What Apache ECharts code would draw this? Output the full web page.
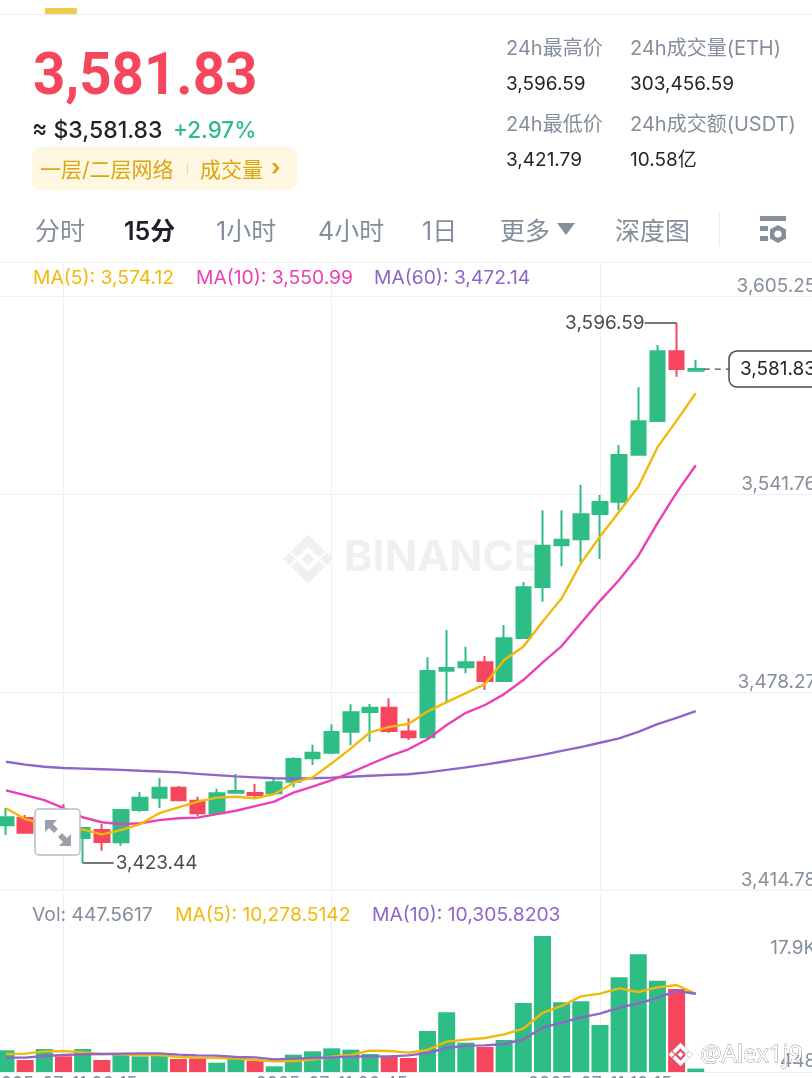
<!DOCTYPE html>
<html>
<head>
<meta charset="utf-8">
<script src="https://cdn.jsdelivr.net/npm/echarts@6/dist/echarts.min.js"></script>
<style>
html,body{margin:0;padding:0;background:#fff;overflow:hidden}
body{width:812px;height:1078px;position:relative;font-family:Inter,"Noto Sans CJK SC",sans-serif}
#chart_kline{position:absolute;left:0;top:0;width:812px;height:1078px}
.t{position:absolute;white-space:nowrap;line-height:1;transform:translateY(-50%);z-index:5}
.g{color:#848e9c}
.d{color:#1e2329}
</style>
</head>
<body>
<div id="chart_kline"></div>

<!-- 顶部行情 -->
<div style="position:absolute;left:45px;top:8px;width:32px;height:6px;background:#f0cb50;z-index:5"></div>
<div style="position:absolute;left:0;top:14px;width:812px;height:1px;background:#eaecef;z-index:5"></div>
<div class="t" style="left:33px;top:74px;font-family:Roboto;font-size:60px;font-weight:700;color:#f6465d;transform:translateY(-50%) scaleX(.94);transform-origin:left center">3,581.83</div>
<div class="t d" style="left:32px;top:130px;font-size:23px;font-weight:500">≈ $3,581.83</div>
<div class="t" style="left:173px;top:130px;font-size:22.400px;font-weight:500;color:#2ebd85">+2.97%</div>
<div style="position:absolute;left:32px;top:147px;width:265px;height:43px;background:#fef8e3;border-radius:9px;z-index:4"></div>
<div class="t" style="left:40px;top:169px;font-size:21px;color:#dca50f">一层/二层网络</div>
<div style="position:absolute;left:187px;top:164px;width:1px;height:10px;background:#e8d9a0;z-index:5"></div>
<div class="t" style="left:200px;top:169px;font-size:21px;color:#dca50f">成交量</div>
<div class="t" style="left:271px;top:167px;font-size:22px;font-weight:700;color:#dca50f">›</div>

<div class="t g" style="left:506px;top:48px;font-size:20px">24h最高价</div>
<div class="t g" style="left:630px;top:48px;font-size:20px">24h成交量(ETH)</div>
<div class="t d" style="left:506px;top:83px;font-size:19px">3,596.59</div>
<div class="t d" style="left:630px;top:83px;font-size:19px">303,456.59</div>
<div class="t g" style="left:506px;top:124px;font-size:20px">24h最低价</div>
<div class="t g" style="left:630px;top:124px;font-size:20px">24h成交额(USDT)</div>
<div class="t d" style="left:506px;top:159px;font-size:19px">3,421.79</div>
<div class="t d" style="left:630px;top:159px;font-size:19px">10.58亿</div>

<!-- 周期 -->
<div class="t g" style="left:35px;top:231px;font-size:25px">分时</div>
<div class="t d" style="left:124px;top:231px;font-size:25px;font-weight:600">15分</div>
<div class="t g" style="left:216px;top:231px;font-size:25px">1小时</div>
<div class="t g" style="left:318px;top:231px;font-size:25px">4小时</div>
<div class="t g" style="left:422px;top:231px;font-size:25px">1日</div>
<div class="t g" style="left:500px;top:231px;font-size:25px">更多</div>
<div class="t g" style="left:615px;top:231px;font-size:25px">深度图</div>
<svg style="position:absolute;left:556px;top:222px;z-index:5" width="20" height="14"><path d="M1 1H19L10 13Z" fill="#848e9c"/></svg>
<div style="position:absolute;left:719px;top:212px;width:1px;height:34px;background:#eaecef;z-index:5"></div>
<svg style="position:absolute;left:758px;top:214px;z-index:5" width="30" height="30"><path d="M2 2H28V7H2ZM2 12H10V17H2ZM2 22H10V27H2Z" fill="#848e9c"/><path d="M20 11L28 15.5V24.5L20 29L12 24.500V15.500Z" fill="#848e9c"/><circle cx="20" cy="20" r="3.600" fill="#fff"/></svg>

<!-- 指标文字 -->
<div class="t" style="left:33px;top:278px;font-size:19.300px;color:#f0b90b">MA(5): 3,574.12</div>
<div class="t" style="left:196px;top:278px;font-size:19.300px;color:#eb40b5">MA(10): 3,550.99</div>
<div class="t" style="left:374px;top:278px;font-size:19.300px;color:#8d66c9">MA(60): 3,472.14</div>
<div class="t g" style="left:32px;top:915px;font-size:19.300px">Vol: 447.5617</div>
<div class="t" style="left:175px;top:915px;font-size:19.300px;color:#f0b90b">MA(5): 10,278.5142</div>
<div class="t" style="left:372px;top:915px;font-size:19.300px;color:#8d66c9">MA(10): 10,305.8203</div>

<script>
var times = ['02:30','02:45','03:00','03:15','03:30','03:45','04:00','04:15','04:30','04:45','05:00','05:15','05:30','05:45','06:00','06:15','06:30','06:45','07:00','07:15','07:30','07:45','08:00','08:15','08:30','08:45','09:00','09:15','09:30','09:45','10:00','10:15','10:30','10:45','11:00','11:15','11:30','11:45','12:00','12:15','12:30','12:45','13:00'];
var opens = [3435.52,3437.87,3433.38,3435.94,3431.45,3434.02,3430.07,3440.43,3444.37,3447.58,3443.41,3439.37,3445.98,3445.88,3445.79,3449.51,3457.01,3458.80,3465.54,3471.86,3473.23,3465.60,3463.74,3485.10,3486.19,3487.79,3481.80,3495.58,3511.94,3525.31,3527.23,3535.35,3539.29,3554.36,3565.17,3587.52,3581.30];
var closes = [3438.09,3433.15,3435.94,3431.45,3434.66,3430.17,3440.43,3444.37,3447.58,3443.54,3439.37,3445.79,3446.52,3445.24,3449.31,3456.78,3458.80,3465.44,3471.76,3473.23,3465.76,3463.74,3485.00,3485.96,3487.79,3481.80,3495.49,3511.84,3525.18,3527.11,3535.25,3539.19,3554.27,3565.07,3587.52,3581.84,3581.83];
var lows = [3432.41,3433.10,3431.45,3430.50,3423.44,3427.38,3428.98,3439.89,3441.07,3443.50,3438.51,3439.30,3445.90,3444.18,3445.70,3447.71,3454.86,3458.39,3461.18,3462.33,3465.22,3462.88,3463.70,3474.65,3484.27,3478.91,3481.48,3495.50,3507.22,3518.58,3519.95,3520.92,3536.63,3554.04,3565.10,3579.37,3580.98];
var highs = [3441.07,3438.83,3437.22,3442.35,3435.00,3435.94,3440.50,3446.20,3450.69,3448.13,3444.70,3447.26,3451.97,3448.77,3450.69,3457.33,3461.37,3467.91,3474.32,3474.42,3476.25,3469.84,3489.40,3498.15,3492.79,3489.81,3499.75,3513.54,3536.53,3536.53,3544.74,3541.44,3557.47,3575.97,3589.54,3596.59,3584.73];
var ma5 = [3441.0,3437.5,3435.9,3434.7,3434.2,3432.6,3434.0,3435.9,3439.4,3441.3,3443.1,3444.4,3444.7,3444.2,3445.5,3449.2,3450.9,3455.4,3460.2,3465.3,3467.1,3468.0,3472.0,3475.0,3477.9,3480.8,3488.5,3492.8,3500.8,3508.3,3519.5,3528.1,3536.1,3544.1,3556.7,3565.3,3574.12];
var ma10 = [3446.7,3445.2,3443.6,3441.0,3438.1,3436.5,3435.9,3436.2,3437.2,3437.8,3438.0,3439.1,3440.2,3441.7,3443.1,3446.0,3447.9,3450.0,3452.4,3455.1,3457.7,3459.9,3463.1,3467.7,3471.6,3474.1,3477.6,3482.1,3487.7,3493.0,3500.3,3507.5,3514.2,3521.9,3532.4,3542.2,3550.99];
var ma60 = [3455.9,3455.0,3454.3,3453.9,3453.7,3453.5,3453.3,3453.0,3452.8,3452.5,3452.0,3451.6,3451.2,3450.9,3450.6,3450.5,3450.6,3450.8,3451.1,3451.4,3451.7,3451.9,3452.5,3453.3,3454.1,3455.0,3456.0,3457.0,3458.1,3459.4,3460.6,3462.0,3463.4,3465.5,3468.0,3470.0,3472.14];
var vols = [2852,1579,3027,2062,3027,1579,2237,2062,2237,1711,1799,1228,1711,1448,746,2281,2720,3115,2939,2369,2062,1843,5396,7853,3861,3290,4212,9081,17899,9169,9300,6186,12459,15486,12020,10924,447.56];
var volMa5 = [2369,2413,2720,2764,2588,2369,2325,2237,2237,1974,1886,1843,1755,1579,1404,1448,1623,2018,2237,2808,2764,2544,2895,3992,4255,4475,4957,5703,7765,8686,9958,10309,11011,10529,11143,11450,10278.51];
var volMa10 = [1886,1886,2106,2237,2325,2369,2413,2457,2457,2281,2194,2150,1974,1930,1667,1755,1843,1930,2018,2062,2062,2194,2501,3159,3466,3510,3685,4299,5835,6493,7195,7677,8467,9037,9739,10660,10305.82];
var priceTicks = [3414.78,3478.27,3541.76,3605.25];
var volTicks = [447.56,17900];

var UP = '#2ebd85', DOWN = '#f6465d', GRID = '#eef0f2', TEXT = '#848e9c', DARK = '#474d57';
// 币安logo 32x32
var logoParts = [
	[[16,3],[25,12],[21.8,15.2],[16,9.4],[10.2,15.2],[7,12]],
	[[16,29],[25,20],[21.8,16.8],[16,22.6],[10.2,16.8],[7,20]],
	[[16,12.6],[19.4,16],[16,19.4],[12.6,16]],
	[[6,12.6],[9.4,16],[6,19.4],[2.6,16]],
	[[26,12.6],[29.4,16],[26,19.4],[22.6,16]]
];
function logo(x, y, size, z, style){
	return logoParts.map(function(pts){
		return {type:'polygon', z:z, silent:true, style:style,
			shape:{points:pts.map(function(p){return [x+p[0]*size/32, y+p[1]*size/32];})}};
	});
}

var myChart = echarts.init(document.getElementById('chart_kline'));
function lineS(name, arr, color, xi, yi, w){
	return {name:name, type:'line', data:arr, xAxisIndex:xi, yAxisIndex:yi, symbol:'none', z:5, silent:true, lineStyle:{color:color, width:w}};
}
var tickAt = function(i){ return i % 14 == 3; };
var option = {
	animation:false,
	backgroundColor:'#fff',
	grid:[
		{left:-3.58, top:262, width:823.88, height:628, outerBoundsMode:'none'},
		{left:-3.58, top:895, width:823.88, height:177, outerBoundsMode:'none'}
	],
	xAxis:[
		{type:'category', gridIndex:0, data:times, axisLine:{show:false}, axisTick:{show:false}, axisLabel:{show:false},
			splitLine:{show:true, interval:tickAt, alignWithLabel:true, lineStyle:{color:GRID, width:1}}},
		{type:'category', gridIndex:1, data:times, axisLine:{lineStyle:{color:'#eaecef', width:1}}, axisTick:{show:false},
			axisLabel:{show:true, interval:tickAt, margin:4, fontSize:18, color:TEXT, fontFamily:'Inter', formatter:function(v){return '2025-07-11 '+v;}},
			splitLine:{show:true, interval:tickAt, alignWithLabel:true, lineStyle:{color:GRID, width:1}}}
	],
	yAxis:[
		{type:'value', gridIndex:0, position:'right', min:3414.78, max:3616.15, axisLine:{show:false},
			axisTick:{show:false, customValues:priceTicks.concat([3616.15])},
			axisLabel:{inside:true, margin:4, fontSize:19, color:TEXT, fontFamily:'Inter', verticalAlign:'bottom', lineHeight:20, customValues:priceTicks,
				formatter:function(v){return v.toLocaleString('en-US',{minimumFractionDigits:2,maximumFractionDigits:2});}},
			splitLine:{show:true, lineStyle:{color:GRID, width:1}}},
		{type:'value', gridIndex:1, position:'right', min:0, max:23293, axisLine:{show:false},
			axisTick:{show:false, customValues:volTicks},
			axisLabel:{inside:true, margin:4, fontSize:19, color:TEXT, fontFamily:'Inter', customValues:volTicks,
				formatter:function(v){return v > 1000 ? '{t|17.9K}' : '{b|448}';},
				rich:{t:{padding:[24,0,0,0], fontSize:19, color:TEXT}, b:{padding:[0,0,14,0], fontSize:19, color:TEXT}}},
			splitLine:{show:false}}
	],
	series:[
		{name:'K', type:'candlestick', xAxisIndex:0, yAxisIndex:0, barWidth:15, z:3, silent:true,
			data:opens.map(function(o,i){return [o, closes[i], lows[i], highs[i]];}),
			itemStyle:{color:UP, color0:DOWN, borderColor:UP, borderColor0:DOWN, borderWidth:2}},
		lineS('MA60', ma60, '#8d66c9', 0, 0, 2.4),
		lineS('MA10', ma10, '#eb40b5', 0, 0, 2.4),
		lineS('MA5', ma5, '#f0b90b', 0, 0, 2.4),
		{name:'Vol', type:'bar', xAxisIndex:1, yAxisIndex:1, barWidth:17, silent:true,
			data:vols.map(function(v,i){return {value:v, itemStyle:{color:closes[i] > opens[i] ? UP : DOWN}};})},
		lineS('VolMA5', volMa5, '#f0b90b', 1, 1, 2.4),
		lineS('VolMA10', volMa10, '#8d66c9', 1, 1, 2.4)
	]
};
myChart.setOption(option);

// 标注用convertToPixel取坐标
var hi = myChart.convertToPixel({gridIndex:0}, [35, 3596.59]);
var lo = myChart.convertToPixel({gridIndex:0}, [4, 3423.44]);
var last = myChart.convertToPixel({gridIndex:0}, [36, 3581.83]);
var labelFont = '19px Inter';
var marks = [
	// 水印
	{type:'text', z:1, silent:true, x:344, y:558, style:{text:'BINANCE', font:'700 43px Inter', fill:'#eff0f2', verticalAlign:'middle'}},
	// 最高最低
	{type:'line', z:20, shape:{x1:hi[0], y1:hi[1], x2:hi[0]-32, y2:hi[1]}, style:{stroke:DARK, lineWidth:1.5}},
	{type:'text', z:20, x:hi[0]-32, y:hi[1], style:{text:'3,596.59', font:labelFont, fill:DARK, align:'right', verticalAlign:'middle'}},
	{type:'line', z:20, shape:{x1:lo[0], y1:lo[1], x2:lo[0]+31, y2:lo[1]}, style:{stroke:DARK, lineWidth:1.5}},
	{type:'text', z:20, x:lo[0]+33, y:lo[1], style:{text:'3,423.44', font:labelFont, fill:DARK, verticalAlign:'middle'}},
	// 最新价
	{type:'line', z:20, shape:{x1:last[0]+8, y1:last[1], x2:729, y2:last[1]}, style:{stroke:DARK, lineWidth:1.2, lineDash:[6,5]}},
	{type:'rect', z:20, shape:{x:729, y:last[1]-18, width:110, height:36, r:8}, style:{fill:'#fff', stroke:DARK, lineWidth:1.5}},
	{type:'text', z:21, x:740, y:last[1], style:{text:'3,581.83', font:labelFont, fill:'#1e2329', verticalAlign:'middle'}},
	// 缩放按钮
	{type:'rect', z:20, shape:{x:35, y:809, width:45, height:46, r:4}, style:{fill:'#fff', stroke:'#b7bdc6', lineWidth:1.5}},
	{type:'polygon', z:21, shape:{points:[[45,820],[57,820],[53,824],[58,829],[54,833],[49,828],[45,832]]}, style:{fill:'#9aa1ab'}},
	{type:'polygon', z:21, shape:{points:[[71,846],[59,846],[63,842],[58,837],[62,833],[67,838],[71,834]]}, style:{fill:'#9aa1ab'}},
	// 右下角水印
	{type:'text', z:30, silent:true, x:700, y:1055, style:{text:'@Alex1j9', font:'24px "Noto Sans"', fill:'#fff', stroke:'#8d8d8d', lineWidth:.8, verticalAlign:'middle'}}
];
myChart.setOption({graphic:marks
	.concat(logo(278, 529, 60, 1, {fill:'#eff0f2'}))
	.concat(logo(666, 1040, 29, 30, {fill:'#fff', stroke:'#9aa1ab', lineWidth:.5}))
});
</script>
</body>
</html>
